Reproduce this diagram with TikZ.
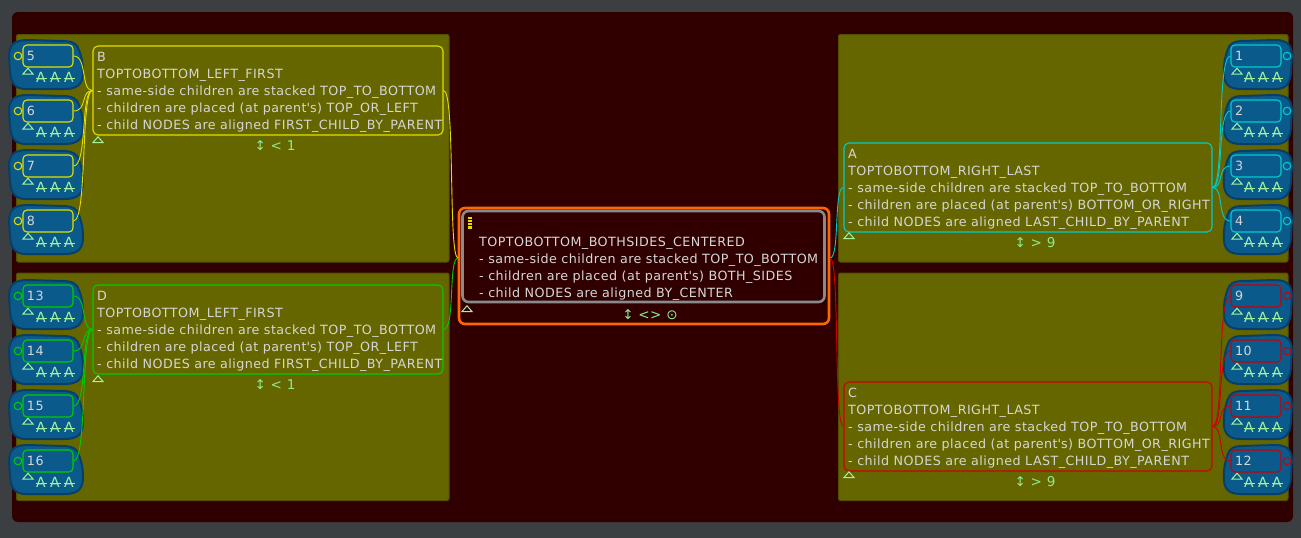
\documentclass[tikz,border=0pt]{standalone}
\usepackage{fontspec}
\setmainfont{DejaVu Sans}[LetterSpace=3.5]
\definecolor{bgc}{HTML}{3C3F41}
\definecolor{maroonc}{HTML}{300000}
\definecolor{olivec}{HTML}{666600}
\definecolor{olivedark}{HTML}{505000}
\definecolor{blobc}{HTML}{0B5A8C}
\definecolor{blobdark}{HTML}{063F68}
\definecolor{txtc}{HTML}{D6D6D6}
\definecolor{lgreen}{HTML}{A0F4A0}
\definecolor{footc}{HTML}{90EA90}
\definecolor{yl}{HTML}{E0E000}
\definecolor{cy}{HTML}{00CCCC}
\definecolor{gr}{HTML}{00CC00}
\definecolor{rd}{HTML}{CC0000}
\definecolor{orc}{HTML}{FF6600}
\definecolor{grayc}{HTML}{8A8A8A}
\newcommand\qs{\textquotesingle}
\tikzset{
  txt/.style={text=txtc, font=\fontsize{12.7}{17}\selectfont, inner sep=0pt, align=left, anchor=west},
  grpbox/.style={rounded corners=5pt, line width=1.1pt, fill=olivec, inner sep=0pt, minimum width=#1, minimum height=89pt},
  leafbox/.style={rounded corners=4pt, line width=1.1pt, fill=blobc, minimum height=22pt, text width=42pt, inner xsep=4pt, inner ysep=0pt, align=left, text=txtc, font=\fontsize{12.7}{14}\selectfont},
  portc/.style={circle, line width=1.1pt, minimum size=7.5pt, inner sep=0pt},
  trist/.style={draw=lgreen, line width=1pt, line join=miter},
  astyle/.style={text=lgreen, font=\fontsize{14}{14}\selectfont, inner sep=0pt},
  aline/.style={draw=lgreen, line width=1pt},
  foot/.style={text=footc, font=\fontsize{13.5}{15}\selectfont, inner sep=0pt},
  conn/.style={line width=0.9pt},
  panel/.style={fill=olivec, draw=olivedark, line width=1pt, rounded corners=2pt},
  blob/.pic={\draw[fill=blobc, draw=blobdark, line width=2pt]
     (-39,0) .. controls (-39,-12) and (-33,-16) .. (-20,-16) -- (14,-15)
     .. controls (25,-15) and (29,-12) .. (31,-6) .. controls (34,2) and (35,8) .. (35,16)
     .. controls (35,29) and (29,33) .. (16,33) -- (-22,33)
     .. controls (-33,33) and (-37,27) .. (-38,16) -- cycle;}
}
\newcommand\aaa[3]{\node[astyle] (#1) at (#2,#3) {A}; \draw[aline] (#2-5.5,#3+1.5) -- (#2+5.5,#3+1.5);}
\newcommand\tri[2]{\draw[trist] (#1-5,#2+2.5) -- (#1,#2-3.2) -- (#1+5,#2+2.5) -- cycle;}
\newcommand\leafL[4]{%
  \pic at (48,#3) {blob};
  \node[leafbox, draw=#4] (#1) at (48,#3) {#2};
  \node[portc, draw=#4] (#1c) at (18,#3) {};
  \tri{28}{#3+15.5}
  \aaa{#1a}{41}{#3+21}\aaa{#1b}{55}{#3+21}\aaa{#1d}{69}{#3+21}%
}
\newcommand\leafR[4]{%
  \pic[xscale=-0.92] at (1256,#3) {blob};
  \node[leafbox, draw=#4] (#1) at (1256,#3) {#2};
  \node[portc, draw=#4] (#1c) at (1287,#3) {};
  \tri{1237}{#3+15.5}
  \aaa{#1a}{1249}{#3+21}\aaa{#1b}{1263}{#3+21}\aaa{#1d}{1277}{#3+21}%
}
\begin{document}
\begin{tikzpicture}[x=1pt,y=-1pt]
\useasboundingbox (0,0) rectangle (1301,538);
\fill[bgc] (0,0) rectangle (1301,538);
\fill[maroonc, rounded corners=6pt] (12,12) rectangle (1293,522);
% panels
\draw[panel] (16.5,34.5) rectangle (449,262);
\draw[panel] (16.5,273) rectangle (449,500.5);
\draw[panel] (838.5,34.5) rectangle (1288,262);
\draw[panel] (838.5,273) rectangle (1288,500.5);

% group boxes
\node[grpbox=350pt, draw=yl] (B) at (268,90.5) {};
\node[grpbox=350pt, draw=gr] (D) at (268,329.5) {};
\node[grpbox=368pt, draw=cy] (A) at (1028,187.5) {};
\node[grpbox=368pt, draw=rd] (C) at (1028,426.5) {};
\node[txt] (Bt) at (97,92.5) {B\\TOPTOBOTTOM\_LEFT\_FIRST\\- same-side children are stacked TOP\_TO\_BOTTOM\\- children are placed (at parent\qs s) TOP\_OR\_LEFT\\- child NODES are aligned FIRST\_CHILD\_BY\_PARENT};
\node[txt] (Dt) at (97,331.5) {D\\TOPTOBOTTOM\_LEFT\_FIRST\\- same-side children are stacked TOP\_TO\_BOTTOM\\- children are placed (at parent\qs s) TOP\_OR\_LEFT\\- child NODES are aligned FIRST\_CHILD\_BY\_PARENT};
\node[txt] (At) at (848,189.5) {A\\TOPTOBOTTOM\_RIGHT\_LAST\\- same-side children are stacked TOP\_TO\_BOTTOM\\- children are placed (at parent\qs s) BOTTOM\_OR\_RIGHT\\- child NODES are aligned LAST\_CHILD\_BY\_PARENT};
\node[txt] (Ct) at (848,428.5) {C\\TOPTOBOTTOM\_RIGHT\_LAST\\- same-side children are stacked TOP\_TO\_BOTTOM\\- children are placed (at parent\qs s) BOTTOM\_OR\_RIGHT\\- child NODES are aligned LAST\_CHILD\_BY\_PARENT};

\tri{98}{140}
\tri{98}{379}
\tri{849}{236}
\tri{849}{475}
\node[foot] (fB) at (275,146) {↕ < 1};
\node[foot] (fD) at (275,385) {↕ < 1};
\node[foot] (fA) at (1035,243) {↕ > 9};
\node[foot] (fC) at (1035,482) {↕ > 9};

% center node
\node[draw=orc, line width=2.6pt, rounded corners=6pt, fill=maroonc, minimum width=370pt, minimum height=116pt, inner sep=0pt] (root) at (644,266) {};
\node[draw=grayc, line width=2.6pt, rounded corners=6pt, fill=maroonc, minimum width=362pt, minimum height=91pt, inner sep=0pt] (rootin) at (643.5,256.5) {};
\fill[yl] (468,217) rectangle (472,229);
\foreach \yy in {219.5,222.5,225.5} \draw[maroonc, line width=0.6pt] (468,\yy) -- (472,\yy);
\node[txt] (rt) at (479,268.5) {TOPTOBOTTOM\_BOTHSIDES\_CENTERED\\- same-side children are stacked TOP\_TO\_BOTTOM\\- children are placed (at parent\qs s) BOTH\_SIDES\\- child NODES are aligned BY\_CENTER};
\tri{467}{309}
\node[foot] (fR) at (650,315) {↕ <> ⊙};
\coordinate (cL) at (458,258);
\coordinate (cR) at (830,258);

% leaves
\leafL{n5}{5}{56}{yl}
\leafL{n6}{6}{111}{yl}
\leafL{n7}{7}{166}{yl}
\leafL{n8}{8}{221}{yl}
\leafL{n13}{13}{296}{gr}
\leafL{n14}{14}{351}{gr}
\leafL{n15}{15}{406}{gr}
\leafL{n16}{16}{461}{gr}
\leafR{n1}{1}{56}{cy}
\leafR{n2}{2}{111}{cy}
\leafR{n3}{3}{166}{cy}
\leafR{n4}{4}{221}{cy}
\leafR{n9}{9}{296}{rd}
\leafR{n10}{10}{351}{rd}
\leafR{n11}{11}{406}{rd}
\leafR{n12}{12}{461}{rd}

% connectors
\foreach \n in {n5,n6,n7,n8} \draw[conn, yl] (\n.east) .. controls +(14,0) and +(-12,0) .. (B.west);
\foreach \n in {n13,n14,n15,n16} \draw[conn, gr] (\n.east) .. controls +(14,0) and +(-12,0) .. (D.west);
\foreach \n in {n1,n2,n3,n4} \draw[conn, cy] (A.east) .. controls +(12,0) and +(-14,0) .. (\n.west);
\foreach \n in {n9,n10,n11,n12} \draw[conn, rd] (C.east) .. controls +(12,0) and +(-14,0) .. (\n.west);
\draw[conn, yl] (B.east) .. controls +(12,0) and +(-10,0) .. (cL);
\draw[conn, gr] (D.east) .. controls +(12,0) and +(-10,0) .. (cL);
\draw[conn, cy] (cR) .. controls +(10,0) and +(-10,0) .. (A.west);
\draw[conn, rd] (cR) .. controls +(10,0) and +(-10,0) .. (C.west);
\end{tikzpicture}
\end{document}
